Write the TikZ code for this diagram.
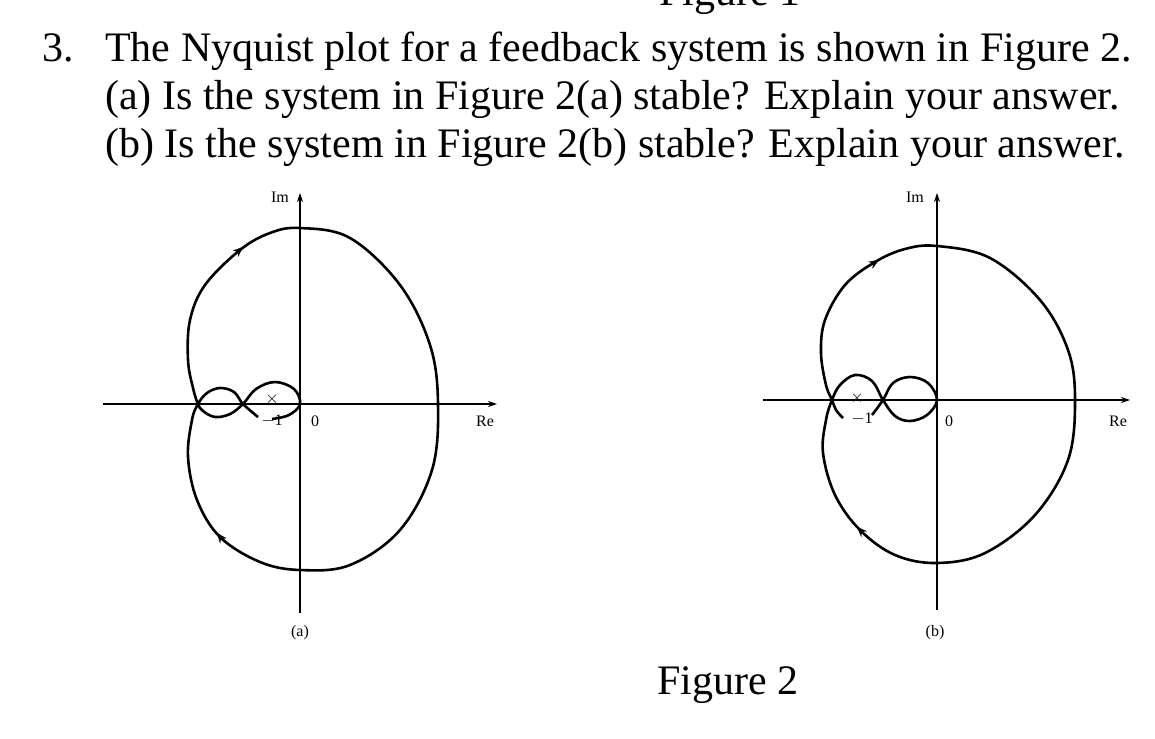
\documentclass[tikz,border=0pt]{standalone}
\usepackage{fontspec}
\setmainfont{Liberation Serif}
\usetikzlibrary{arrows.meta}
\begin{document}
\begin{tikzpicture}[x=1pt,y=-1pt,
  ax/.style={line width=1.2pt,-{Stealth[length=9pt,width=6pt]}},
  crv/.style={line width=2.6pt,line join=round},
  arr/.style={-{Stealth[length=10pt,width=8pt]},line width=0.1pt},
  big/.style={font=\fontsize{42}{46}\selectfont,anchor=base west,inner sep=0pt},
  sm/.style={font=\fontsize{16}{18}\selectfont,inner sep=0pt}]
\clip (0,0) rectangle (1155,738);
\useasboundingbox (0,0) rectangle (1155,738);
\node[big,anchor=base] (f1) at (730,6) {Figure 1};
\node[big] (n3) at (42,62) {3.};
\node[big] (l1) at (105,62) {The Nyquist plot for a feedback system is shown in Figure 2.};
\node[big] (l2) at (105,110) {(a) Is the system in Figure 2(a) stable? Explain your answer.};
\node[big] (l3) at (105,158) {(b) Is the system in Figure 2(b) stable? Explain your answer.};
\node[big,anchor=base] (f2) at (728,694) {Figure 2};
% ---- (a)
\coordinate (ax0) at (103,404); \coordinate (ax1) at (497,404);
\coordinate (ay0) at (300,613); \coordinate (ay1) at (300,193);
\draw[ax] (ax0) -- (ax1);
\draw[ax] (ay0) -- (ay1);
\node[sm] (ima) at (280,197) {Im};
\node[sm] (rea) at (485,421) {Re};
\node[sm] (za) at (315,421) {0};
\node[sm] (ma) at (272,421) {$-$1};
\node[sm] (xa) at (272,399) {$\times$};
\node[sm] (la) at (300,633) {(a)};
\draw[crv] plot[smooth,tension=0.6] coordinates {(272,419) (289,415) (300,404) (294,389) (275,382) (256,389) (243,404) (230,414) (215,417) (203,411) (198,404) (193,388) (188,360) (190,320) (205,285) (240,250) (270,233) (300,228) (350,238) (400,285) (430,345) (438,404) (432,470) (400,530) (350,565) (300,570) (260,562) (220,537) (197,500) (188,457) (192,420) (198,404) (207,393) (220,388) (234,392) (243,404) (258,417)};
\draw[arr] (234,255) -- (243,247);
\draw[arr] (225,543) -- (217,533);
% ---- (b)
\coordinate (bx0) at (763,400); \coordinate (bx1) at (1130,400);
\coordinate (by0) at (937,610); \coordinate (by1) at (937,193);
\draw[ax] (bx0) -- (bx1);
\draw[ax] (by0) -- (by1);
\node[sm] (imb) at (915,197) {Im};
\node[sm] (reb) at (1118,421) {Re};
\node[sm] (zb) at (949,421) {0};
\node[sm] (mb) at (862,419) {$-$1};
\node[sm] (xb) at (857,398) {$\times$};
\node[sm] (lb) at (935,633) {(b)};
\draw[crv] plot[smooth,tension=0.6] coordinates {(843,418) (836,410) (832,400) (826,385) (821,353) (825,320) (845,285) (875,262) (905,249) (937,246) (990,258) (1040,300) (1068,350) (1075,400) (1068,460) (1035,515) (985,553) (937,563) (895,555) (860,530) (835,495) (823,453) (826,420) (832,400) (840,385) (855,375) (872,381) (883,400) (895,416) (910,421) (927,415) (937,400) (928,383) (910,377) (893,383) (883,400) (872,415)};
\draw[arr] (869,266) -- (879,260);
\draw[arr] (865,535) -- (857,527);
\end{tikzpicture}
\end{document}
